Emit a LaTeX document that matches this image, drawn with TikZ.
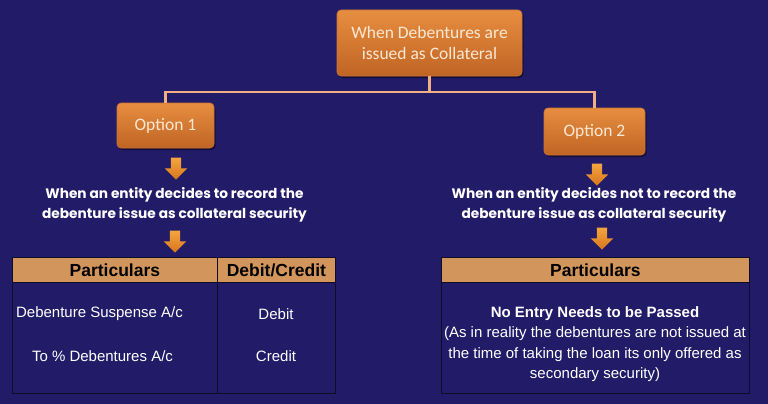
\documentclass[tikz,border=0pt]{standalone}
\usepackage{fontspec}
\setmainfont{Liberation Sans}
\newfontfamily\calfont{Carlito}
\newfontfamily\popfont{Poppins}
\usetikzlibrary{shapes.arrows,shadows}
\definecolor{bgc}{RGB}{34,27,104}
\definecolor{otop}{RGB}{230,142,64}
\definecolor{obot}{RGB}{192,100,36}
\definecolor{oedge}{RGB}{205,115,50}
\definecolor{cream}{RGB}{252,232,210}
\definecolor{peach}{RGB}{240,175,135}
\definecolor{tan}{RGB}{210,150,92}
\definecolor{atop}{RGB}{244,165,62}
\definecolor{abot}{RGB}{214,118,30}
\definecolor{tline}{RGB}{15,12,40}
\tikzset{
  obox/.style={draw=oedge, line width=0.6pt, rounded corners=4pt, top color=otop, bottom color=obot,
    text=cream, align=center, font=\calfont\fontsize{17.5}{21}\selectfont,
    drop shadow={shadow xshift=1.5pt, shadow yshift=-2pt, fill=black, opacity=0.45}},
  conn/.style={draw=peach, line width=2.6pt},
  darrow/.style={single arrow, shape border rotate=270, inner sep=5pt, minimum height=22pt,
    minimum width=22pt, single arrow head extend=6pt, top color=atop, bottom color=abot, draw=none},
  boldtxt/.style={text=white, align=center, font=\popfont\bfseries\fontsize{13.7}{20.5}\selectfont},
  hdr/.style={draw=tline, line width=0.8pt, fill=tan, inner sep=0pt,
    font=\bfseries\fontsize{17.5}{19}\selectfont, text=black},
  cell/.style={draw=tline, line width=0.8pt, fill=bgc, inner sep=0pt},
  celltxt/.style={text=white, font=\fontsize{15}{20.5}\selectfont, align=center},
}
\begin{document}
\begin{tikzpicture}[x=1pt,y=-1pt]
\fill[bgc] (0,0) rectangle (768,404);
\useasboundingbox (0,0) rectangle (768,404);

% top and option boxes
\node[obox, minimum width=185pt, minimum height=66pt] (top) at (429.5,43) {When Debentures are\\issued as Collateral};
\node[obox, minimum width=97pt, minimum height=45pt] (opt1) at (165.5,125.5) {Option 1};
\node[obox, minimum width=101pt, minimum height=47pt] (opt2) at (594.5,131.5) {Option 2};

\coordinate (split) at (429.5,92);
\draw[conn] (top.south) -- (split) -| (opt1.north);
\draw[conn] (split) -| (opt2.north);

% arrows
\node[darrow] (a1) at (176,166) {};
\node[darrow] (a2) at (175,239) {};
\node[darrow] (a3) at (597,172) {};
\node[darrow] (a4) at (602,236) {};

% descriptions
\node[boldtxt] (d1) at (174.5,205) {When an entity decides to record the\\debenture issue as collateral security};
\node[boldtxt] (d2) at (594,205) {When an entity decides not to record the\\debenture issue as collateral security};

% table 1
\node[cell, minimum width=205pt, minimum height=111pt, anchor=north west] (b1a) at (12,282) {};
\node[cell, minimum width=118pt, minimum height=111pt, anchor=north west] (b1b) at (217,282) {};
\node[hdr, minimum width=205pt, minimum height=25pt, anchor=north west] (h1a) at (12,257) {Particulars};
\node[hdr, minimum width=118pt, minimum height=25pt, anchor=north west] (h1b) at (217,257) {Debit/Credit};
\node[celltxt] (r1a) at (99.5,314) {Debenture Suspense A/c};
\node[celltxt] (r2a) at (102.5,356) {To \% Debentures A/c};
\node[celltxt] (r1b) at (276,314) {Debit};
\node[celltxt] (r2b) at (276,356) {Credit};

% table 2
\node[cell, minimum width=308pt, minimum height=111pt, anchor=north west] (b2) at (441,282) {};
\node[hdr, minimum width=308pt, minimum height=25pt, anchor=north west] (h2) at (441,257) {Particulars};
\node[celltxt] (r3) at (595,344) {{\bfseries No Entry Needs to be Passed}\\(As in reality the debentures are not issued at\\the time of taking the loan its only offered as\\secondary security)};
\end{tikzpicture}
\end{document}
